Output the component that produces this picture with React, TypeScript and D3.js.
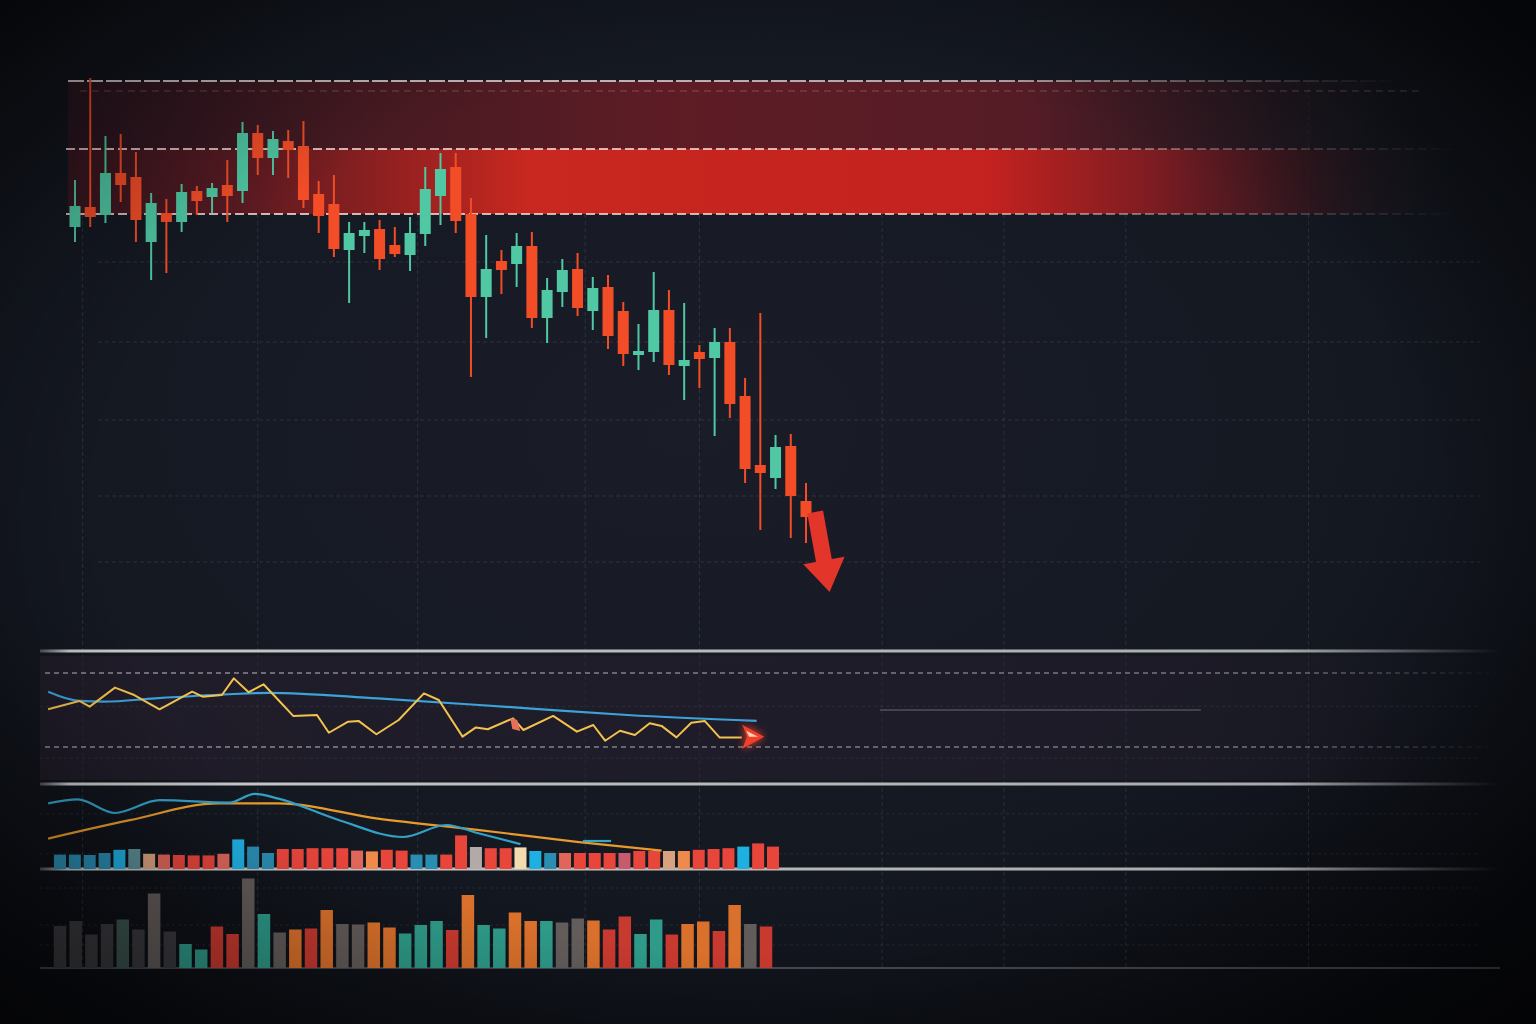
import * as d3 from "d3";
import { useEffect, useRef } from "react";

const W = 1536;
const H = 1024;

// candles, oldest first
const opens = [105.75, 110.75, 108.75, 119.25, 118.25, 102, 109.25, 107, 114.75, 113.25, 116.25, 114.75, 129.25, 123, 127.25, 126, 114, 111.5, 100, 103.5, 105.25, 101.25, 98.75, 104, 113.5, 120.75, 109, 88.25, 97.25, 96.5, 101, 83, 89.5, 95.25, 84.75, 90.75, 84.75, 73.75, 74.5, 85, 71, 74.5, 73, 77, 63.5, 46.25, 43, 51, 37.25];
const highs = [117.5, 143, 128.5, 129, 124.5, 114.25, 112.75, 116.5, 116, 116.75, 122.5, 132, 131.25, 129.75, 130, 132.25, 117.25, 118.75, 107, 107, 107.5, 105.75, 108.25, 120.75, 124.25, 124.25, 113, 103.75, 100, 104.25, 104.5, 93, 97.75, 99.25, 93.25, 93.75, 87, 81.5, 94.5, 90, 86.75, 76.25, 80.5, 80.5, 68, 84.25, 53.75, 54, 41.75];
const lows = [102, 105.75, 106.75, 112, 102, 92.5, 94.25, 104.5, 108.75, 109.25, 107, 111.75, 118.75, 118.75, 118, 110.5, 104.25, 98.25, 86.75, 99.25, 95, 98.25, 94.75, 101, 106.25, 104.25, 68.25, 78, 89, 90.75, 80.5, 76.75, 85.75, 83.5, 80, 75.25, 71, 70, 72, 68.75, 62.5, 65.5, 53.5, 58, 41.75, 30, 40.25, 28, 26.75];
const closes = [111, 108.25, 119.25, 116.25, 107.5, 111.75, 107, 114.5, 112.25, 115.5, 113.5, 129.25, 123, 127.75, 125, 112.5, 108.5, 100.25, 104.25, 105, 97.75, 99, 104.25, 115.25, 120.25, 107.25, 88.25, 95.25, 95, 101, 83, 90, 95, 85.5, 90.5, 78.5, 74, 74.75, 85, 71.25, 72.5, 72.75, 77, 61.5, 45.25, 44.25, 50.75, 38.5, 33.25];

// resistance zone
const zoneTop = 142.25;
const zoneFaint = 139.75;
const zoneMid = 125.25;
const zoneBase = 109;

const priceGrid = [97, 77, 57.5, 38.5, 22];
const timeGrid = [0.5, 12, 22.5, 33.5, 41, 53, 61, 69, 81];

// oscillator panel
const oscT = [-0.8, 1.3, 2, 3.7, 5, 6.7, 8.9, 9.6, 10.9, 11.7, 12.7, 13.7, 14.7, 15.7, 17.3, 18.1, 19.4, 20.1, 21.3, 22.8, 24.5, 25.5, 27.1, 28, 28.8, 30.5, 31.2, 33.2, 34.8, 35.9, 36.7, 37.7, 38.7, 39.7, 40.5, 41.5, 42.5, 43.4, 44.4, 45.9];
const oscV = [50.4, 54.9, 51.8, 62.1, 58.1, 50.4, 59.9, 57.2, 58.1, 67.1, 59.6, 63.9, 55.4, 46.8, 47.3, 37.7, 43.7, 44.1, 36.9, 44.6, 59, 55.4, 35.6, 40.6, 39.6, 45.5, 39.2, 46.8, 38.3, 41.9, 33.4, 38.8, 36.5, 42.8, 41.4, 35.2, 43.1, 44.1, 35.2, 35.2];
const oscAvgT = [-0.8, 1.3, 3, 6.4, 11.4, 14.1, 21.4, 31.5, 38.2, 46.9];
const oscAvgV = [59.9, 54.9, 54.5, 56.3, 58.5, 59.3, 56.3, 50.9, 47.3, 44.1];
const oscBands = [70, 30];
const oscGrid = [52, 24];

// macd panel
const macdT = [-0.8, 1.2, 3.7, 6.7, 11.4, 13.1, 14.7, 18.8, 23.1, 26, 28.1, 31];
const macdV = [0.82, 0.87, 0.7, 0.86, 0.83, 0.94, 0.88, 0.61, 0.4, 0.55, 0.45, 0.31];
const macdStubT = [35.2, 37.1];
const macdStubV = [0.35, 0.35];
const signalT = [-0.8, 4.7, 10.7, 14.7, 21.4, 28.1, 34.8, 40.5];
const signalV = [0.38, 0.61, 0.82, 0.82, 0.63, 0.49, 0.34, 0.23];
const histValues = [0.18, 0.18, 0.175, 0.2, 0.24, 0.25, 0.19, 0.18, 0.175, 0.17, 0.17, 0.19, 0.37, 0.28, 0.2, 0.25, 0.25, 0.26, 0.26, 0.26, 0.23, 0.22, 0.24, 0.23, 0.18, 0.18, 0.18, 0.42, 0.275, 0.26, 0.26, 0.27, 0.225, 0.2, 0.2, 0.2, 0.2, 0.2, 0.2, 0.225, 0.225, 0.225, 0.225, 0.24, 0.25, 0.26, 0.28, 0.32, 0.28];
const histTones = ["b", "b", "b", "b", "c", "g", "t", "s", "r", "r", "r", "s", "c", "b", "b", "r", "r", "r", "r", "r", "s", "o", "r", "r", "b", "b", "r", "r", "n", "r", "r", "k", "c", "b", "s", "r", "r", "r", "p", "r", "r", "t", "o", "r", "r", "r", "c", "r", "r"];
const macdGrid = [0.69, 0.19];

// volume panel
const volumes = [840, 940, 670, 880, 970, 770, 1490, 730, 480, 370, 830, 680, 1790, 1080, 710, 770, 790, 1160, 880, 870, 910, 810, 690, 860, 940, 760, 1460, 860, 790, 1110, 940, 940, 910, 990, 950, 770, 1030, 680, 970, 670, 880, 930, 740, 1260, 880, 830];
const volTones = ["d", "d", "d", "d", "dt", "d", "g", "d", "t", "t", "r", "r", "g", "t", "g", "o", "r", "o", "g", "g", "o", "o", "t", "t", "t", "r", "o", "t", "t", "o", "o", "t", "g", "g", "o", "r", "r", "t", "t", "r", "o", "o", "r", "o", "g", "r"];
const volGrid = [1600, 860, 460];

const histColors: Record<string, string> = {
  b: "#2a8db2", c: "#1fb0e2", g: "#5c8d95", t: "#d9a27f", s: "#e0665a",
  r: "#e8453b", o: "#f08a4c", n: "#b3aaa8", k: "#f1dcb0", p: "#c85a6e",
};
const volColors: Record<string, string> = {
  d: "#3a393e", dt: "#3b544f", g: "#625c5a", t: "#2e9a88", r: "#c8392f", o: "#d9702b",
};

const UP = "#4fc8a3";
const DOWN = "#f24d27";

export default function App() {
  const svgRef = useRef<SVGSVGElement>(null);

  useEffect(() => {
    if (!svgRef.current) return;
    const svg = d3.select(svgRef.current);
    svg.selectAll("*").remove();
    const defs = svg.append("defs");

    // scales
    const x = d3.scaleLinear().domain([0, 48]).range([75, 806]);
    const y = d3.scaleLinear().domain([0, 150]).range([650, 50]);
    const xLow = d3.scaleLinear().domain([0, 48]).range([60, 773]);
    const yOsc = d3.scaleLinear().domain([30, 70]).range([747, 673]);
    const yMacd = d3.scaleLinear().domain([0, 1]).range([869, 789]);
    const xVol = d3.scaleLinear().domain([0, 45]).range([60, 766]);
    const yVol = d3.scaleLinear().domain([0, 2000]).range([968, 868]);

    const left = 40;
    const right = 1500;

    // gradients
    const grad = (id: string, x1: number, x2: number, stops: [number, string, number][]) => {
      const g = defs
        .append("linearGradient")
        .attr("id", id)
        .attr("gradientUnits", "userSpaceOnUse")
        .attr("x1", x1)
        .attr("x2", x2)
        .attr("y1", 0)
        .attr("y2", 0);
      stops.forEach(([o, c, a]) =>
        g.append("stop").attr("offset", o).attr("stop-color", c).attr("stop-opacity", a),
      );
    };

    const bg = defs.append("radialGradient").attr("id", "bg").attr("cx", "45%").attr("cy", "42%").attr("r", "75%");
    bg.append("stop").attr("offset", 0).attr("stop-color", "#1a1d28");
    bg.append("stop").attr("offset", 0.6).attr("stop-color", "#141821");
    bg.append("stop").attr("offset", 1).attr("stop-color", "#07080c");

    grad("zoneLow", 68, 1460, [
      [0, "#3a1620", 0.9],
      [0.12, "#581a22", 1],
      [0.26, "#a02220", 1],
      [0.33, "#c8281f", 1],
      [0.66, "#c4221f", 1],
      [0.78, "#7c1c22", 1],
      [0.9, "#30161e", 0.8],
      [1, "#161a22", 0],
    ]);
    grad("zoneHigh", 68, 1440, [
      [0, "#2c1520", 0.9],
      [0.2, "#461a22", 1],
      [0.45, "#5e1c25", 1],
      [0.7, "#551c26", 1],
      [0.86, "#2c1820", 0.8],
      [1, "#161a22", 0],
    ]);
    grad("zoneLine", 68, 1460, [
      [0, "#f3d6d3", 0.85],
      [0.6, "#f3d6d3", 0.8],
      [0.85, "#c9b0b0", 0.35],
      [1, "#c9b0b0", 0],
    ]);
    grad("topLine", 70, 1400, [
      [0, "#e6dcdc", 0.9],
      [0.7, "#d8d0d0", 0.75],
      [1, "#d8d0d0", 0],
    ]);
    grad("sep", left, right, [
      [0, "#d8d8d8", 0.3],
      [0.02, "#dcdcdc", 0.9],
      [0.85, "#d0d0d0", 0.8],
      [1, "#d0d0d0", 0],
    ]);
    grad("dash", left, right, [
      [0, "#bdb8c4", 0.7],
      [0.85, "#bdb8c4", 0.55],
      [1, "#bdb8c4", 0],
    ]);
    grad("oscBg", left, right, [
      [0, "#2a2030", 0.55],
      [0.8, "#241e2c", 0.45],
      [1, "#241e2c", 0],
    ]);

    const glow = defs.append("filter").attr("id", "glow").attr("x", "-100%").attr("y", "-100%").attr("width", "300%").attr("height", "300%");
    glow.append("feGaussianBlur").attr("stdDeviation", 4).attr("result", "b");
    const m = glow.append("feMerge");
    m.append("feMergeNode").attr("in", "b");
    m.append("feMergeNode").attr("in", "SourceGraphic");

    const vig = defs.append("radialGradient").attr("id", "vig").attr("cx", "50%").attr("cy", "50%").attr("r", "72%");
    vig.append("stop").attr("offset", 0.6).attr("stop-color", "#000").attr("stop-opacity", 0);
    vig.append("stop").attr("offset", 1).attr("stop-color", "#000").attr("stop-opacity", 0.55);

    svg.append("rect").attr("width", W).attr("height", H).attr("fill", "url(#bg)");

    // ---------- main panel grid ----------
    const grid = svg.append("g").attr("stroke", "#a4abbd").attr("stroke-opacity", 0.16).attr("stroke-dasharray", "4 3");
    grid
      .selectAll("line.h")
      .data(priceGrid)
      .join("line")
      .attr("x1", 98)
      .attr("x2", 1480)
      .attr("y1", (d) => y(d))
      .attr("y2", (d) => y(d));
    grid
      .selectAll("line.v")
      .data(timeGrid)
      .join("line")
      .attr("x1", (d) => x(d))
      .attr("x2", (d) => x(d))
      .attr("y1", y(zoneTop))
      .attr("y2", 968);

    // ---------- resistance zone ----------
    svg
      .append("rect")
      .attr("x", 68)
      .attr("width", 1392)
      .attr("y", y(zoneTop))
      .attr("height", y(zoneMid) - y(zoneTop))
      .attr("fill", "url(#zoneHigh)");
    svg
      .append("rect")
      .attr("x", 68)
      .attr("width", 1392)
      .attr("y", y(zoneMid))
      .attr("height", y(zoneBase) - y(zoneMid))
      .attr("fill", "url(#zoneLow)");

    svg
      .append("line")
      .attr("x1", 68)
      .attr("x2", 1400)
      .attr("y1", y(zoneTop))
      .attr("y2", y(zoneTop))
      .attr("stroke", "url(#topLine)")
      .attr("stroke-width", 2)
      .attr("stroke-dasharray", "16 3");
    svg
      .append("line")
      .attr("x1", 80)
      .attr("x2", 1420)
      .attr("y1", y(zoneFaint))
      .attr("y2", y(zoneFaint))
      .attr("stroke", "#d9a3a3")
      .attr("stroke-opacity", 0.35)
      .attr("stroke-width", 1.2)
      .attr("stroke-dasharray", "7 5");
    [zoneMid, zoneBase].forEach((lv) =>
      svg
        .append("line")
        .attr("x1", 66)
        .attr("x2", 1460)
        .attr("y1", y(lv))
        .attr("y2", y(lv))
        .attr("stroke", "url(#zoneLine)")
        .attr("stroke-width", 2)
        .attr("stroke-dasharray", "9 4"),
    );

    // ---------- candles ----------
    const candles = d3.range(opens.length).map((i) => ({
      i,
      o: opens[i],
      h: highs[i],
      l: lows[i],
      c: closes[i],
    }));
    const cg = svg.append("g");
    const bodyW = 11;
    const cand = cg.selectAll("g").data(candles).join("g");
    cand
      .append("line")
      .attr("x1", (d) => x(d.i))
      .attr("x2", (d) => x(d.i))
      .attr("y1", (d) => y(d.h))
      .attr("y2", (d) => y(d.l))
      .attr("stroke", (d) => (d.c >= d.o ? UP : DOWN))
      .attr("stroke-width", 2);
    cand
      .append("rect")
      .attr("x", (d) => x(d.i) - bodyW / 2)
      .attr("width", bodyW)
      .attr("y", (d) => y(Math.max(d.o, d.c)))
      .attr("height", (d) => Math.max(3, Math.abs(y(d.o) - y(d.c))))
      .attr("fill", (d) => (d.c >= d.o ? UP : DOWN));

    // ---------- down arrow ----------
    const p0 = [x(48.6), y(34.5)];
    const tip = [x(49.55), y(14.5)];
    const dx = tip[0] - p0[0];
    const dy = tip[1] - p0[1];
    const len = Math.hypot(dx, dy);
    const u = [dx / len, dy / len];
    const n = [-u[1], u[0]];
    const sw = 8;
    const hw = 21;
    const hl = 32;
    const base = [tip[0] - u[0] * hl, tip[1] - u[1] * hl];
    const pt = (p: number[], k: number) => [p[0] + n[0] * k, p[1] + n[1] * k];
    const arrowPts = [pt(p0, sw), pt(base, sw), pt(base, hw), tip, pt(base, -hw), pt(base, -sw), pt(p0, -sw)];
    svg
      .append("polygon")
      .attr("points", arrowPts.map((p) => p.join(",")).join(" "))
      .attr("fill", "#e3352a");

    // ---------- separators ----------
    [651, 784, 869].forEach((sy) =>
      svg
        .append("line")
        .attr("x1", left)
        .attr("x2", right)
        .attr("y1", sy)
        .attr("y2", sy)
        .attr("stroke", "url(#sep)")
        .attr("stroke-width", 3),
    );
    svg
      .append("line")
      .attr("x1", left)
      .attr("x2", right)
      .attr("y1", 968)
      .attr("y2", 968)
      .attr("stroke", "#8a8a90")
      .attr("stroke-opacity", 0.45)
      .attr("stroke-width", 2);

    // ---------- oscillator panel ----------
    svg.append("rect").attr("x", left).attr("width", right - left).attr("y", 656).attr("height", 124).attr("fill", "url(#oscBg)");
    const faint = svg.append("g").attr("stroke", "#a4abbd").attr("stroke-opacity", 0.12).attr("stroke-dasharray", "3 3");
    oscGrid.forEach((v) => faint.append("line").attr("x1", left).attr("x2", right - 20).attr("y1", yOsc(v)).attr("y2", yOsc(v)));
    macdGrid.forEach((v) => faint.append("line").attr("x1", left).attr("x2", right - 20).attr("y1", yMacd(v)).attr("y2", yMacd(v)));
    volGrid.forEach((v) => faint.append("line").attr("x1", left).attr("x2", right - 20).attr("y1", yVol(v)).attr("y2", yVol(v)));

    oscBands.forEach((v) =>
      svg
        .append("line")
        .attr("x1", 45)
        .attr("x2", right)
        .attr("y1", yOsc(v))
        .attr("y2", yOsc(v))
        .attr("stroke", "url(#dash)")
        .attr("stroke-width", 1.5)
        .attr("stroke-dasharray", "5 4"),
    );
    // ghost reading on the empty right side
    svg
      .append("line")
      .attr("x1", xLow(55.2))
      .attr("x2", xLow(76.8))
      .attr("y1", yOsc(50))
      .attr("y2", yOsc(50))
      .attr("stroke", "#c8c8d0")
      .attr("stroke-opacity", 0.3)
      .attr("stroke-width", 1.5);

    const lineOf = (xs: d3.ScaleLinear<number, number>, ys: d3.ScaleLinear<number, number>, curve: d3.CurveFactory) =>
      d3
        .line<[number, number]>()
        .x((d) => xs(d[0]))
        .y((d) => ys(d[1]))
        .curve(curve);

    const zip = (a: number[], b: number[]) => a.map((v, i) => [v, b[i]] as [number, number]);

    svg
      .append("path")
      .attr("d", lineOf(xLow, yOsc, d3.curveMonotoneX)(zip(oscAvgT, oscAvgV)))
      .attr("fill", "none")
      .attr("stroke", "#3ba3da")
      .attr("stroke-width", 2.2);
    svg
      .append("path")
      .attr("d", lineOf(xLow, yOsc, d3.curveLinear)(zip(oscT, oscV)))
      .attr("fill", "none")
      .attr("stroke", "#f2c24e")
      .attr("stroke-width", 2)
      .attr("stroke-linejoin", "round");

    // markers on the oscillator
    const mk = [xLow(30.65), yOsc(41.9)];
    svg
      .append("path")
      .attr("d", `M${mk[0] - 5},${mk[1] - 7} L${mk[0] + 2},${mk[1] - 5} L${mk[0] + 5},${mk[1] + 6} L${mk[0] - 3},${mk[1] + 4} Z`)
      .attr("fill", "#e6705a");
    const em = [xLow(46.6), yOsc(35.6)];
    svg
      .append("path")
      .attr("d", `M${em[0] - 10},${em[1] - 12} L${em[0] + 12},${em[1]} L${em[0] - 10},${em[1] + 12} L${em[0] - 5},${em[1]} Z`)
      .attr("fill", "#f2402a")
      .attr("filter", "url(#glow)");
    svg
      .append("path")
      .attr("d", `M${em[0] - 6},${em[1] - 6} L${em[0] + 6},${em[1]} L${em[0] - 3},${em[1]} Z`)
      .attr("fill", "#ffd2b8");

    // ---------- macd panel ----------
    const histW = 12;
    svg
      .append("g")
      .selectAll("rect")
      .data(histValues)
      .join("rect")
      .attr("x", (_, i) => xLow(i) - histW / 2)
      .attr("width", histW)
      .attr("y", (d) => yMacd(d))
      .attr("height", (d) => yMacd(0) - yMacd(d))
      .attr("fill", (_, i) => histColors[histTones[i]]);

    svg
      .append("path")
      .attr("d", lineOf(xLow, yMacd, d3.curveMonotoneX)(zip(signalT, signalV)))
      .attr("fill", "none")
      .attr("stroke", "#e99a2c")
      .attr("stroke-width", 2.2);
    svg
      .append("path")
      .attr("d", lineOf(xLow, yMacd, d3.curveMonotoneX)(zip(macdT, macdV)))
      .attr("fill", "none")
      .attr("stroke", "#35a0c6")
      .attr("stroke-width", 2.2);
    svg
      .append("path")
      .attr("d", lineOf(xLow, yMacd, d3.curveLinear)(zip(macdStubT, macdStubV)))
      .attr("fill", "none")
      .attr("stroke", "#35a8c6")
      .attr("stroke-width", 2.2);

    // ---------- volume panel ----------
    const volW = 12.5;
    svg
      .append("g")
      .selectAll("rect")
      .data(volumes)
      .join("rect")
      .attr("x", (_, i) => xVol(i) - volW / 2)
      .attr("width", volW)
      .attr("y", (d) => yVol(d))
      .attr("height", (d) => yVol(0) - yVol(d))
      .attr("fill", (_, i) => volColors[volTones[i]]);

    // vignette
    svg.append("rect").attr("width", W).attr("height", H).attr("fill", "url(#vig)").attr("pointer-events", "none");
  }, []);

  return (
    <div style={{ position: "fixed", inset: 0, background: "#0b0c11", overflow: "hidden" }}>
      <svg ref={svgRef} width={W} height={H} style={{ display: "block" }} />
    </div>
  );
}
